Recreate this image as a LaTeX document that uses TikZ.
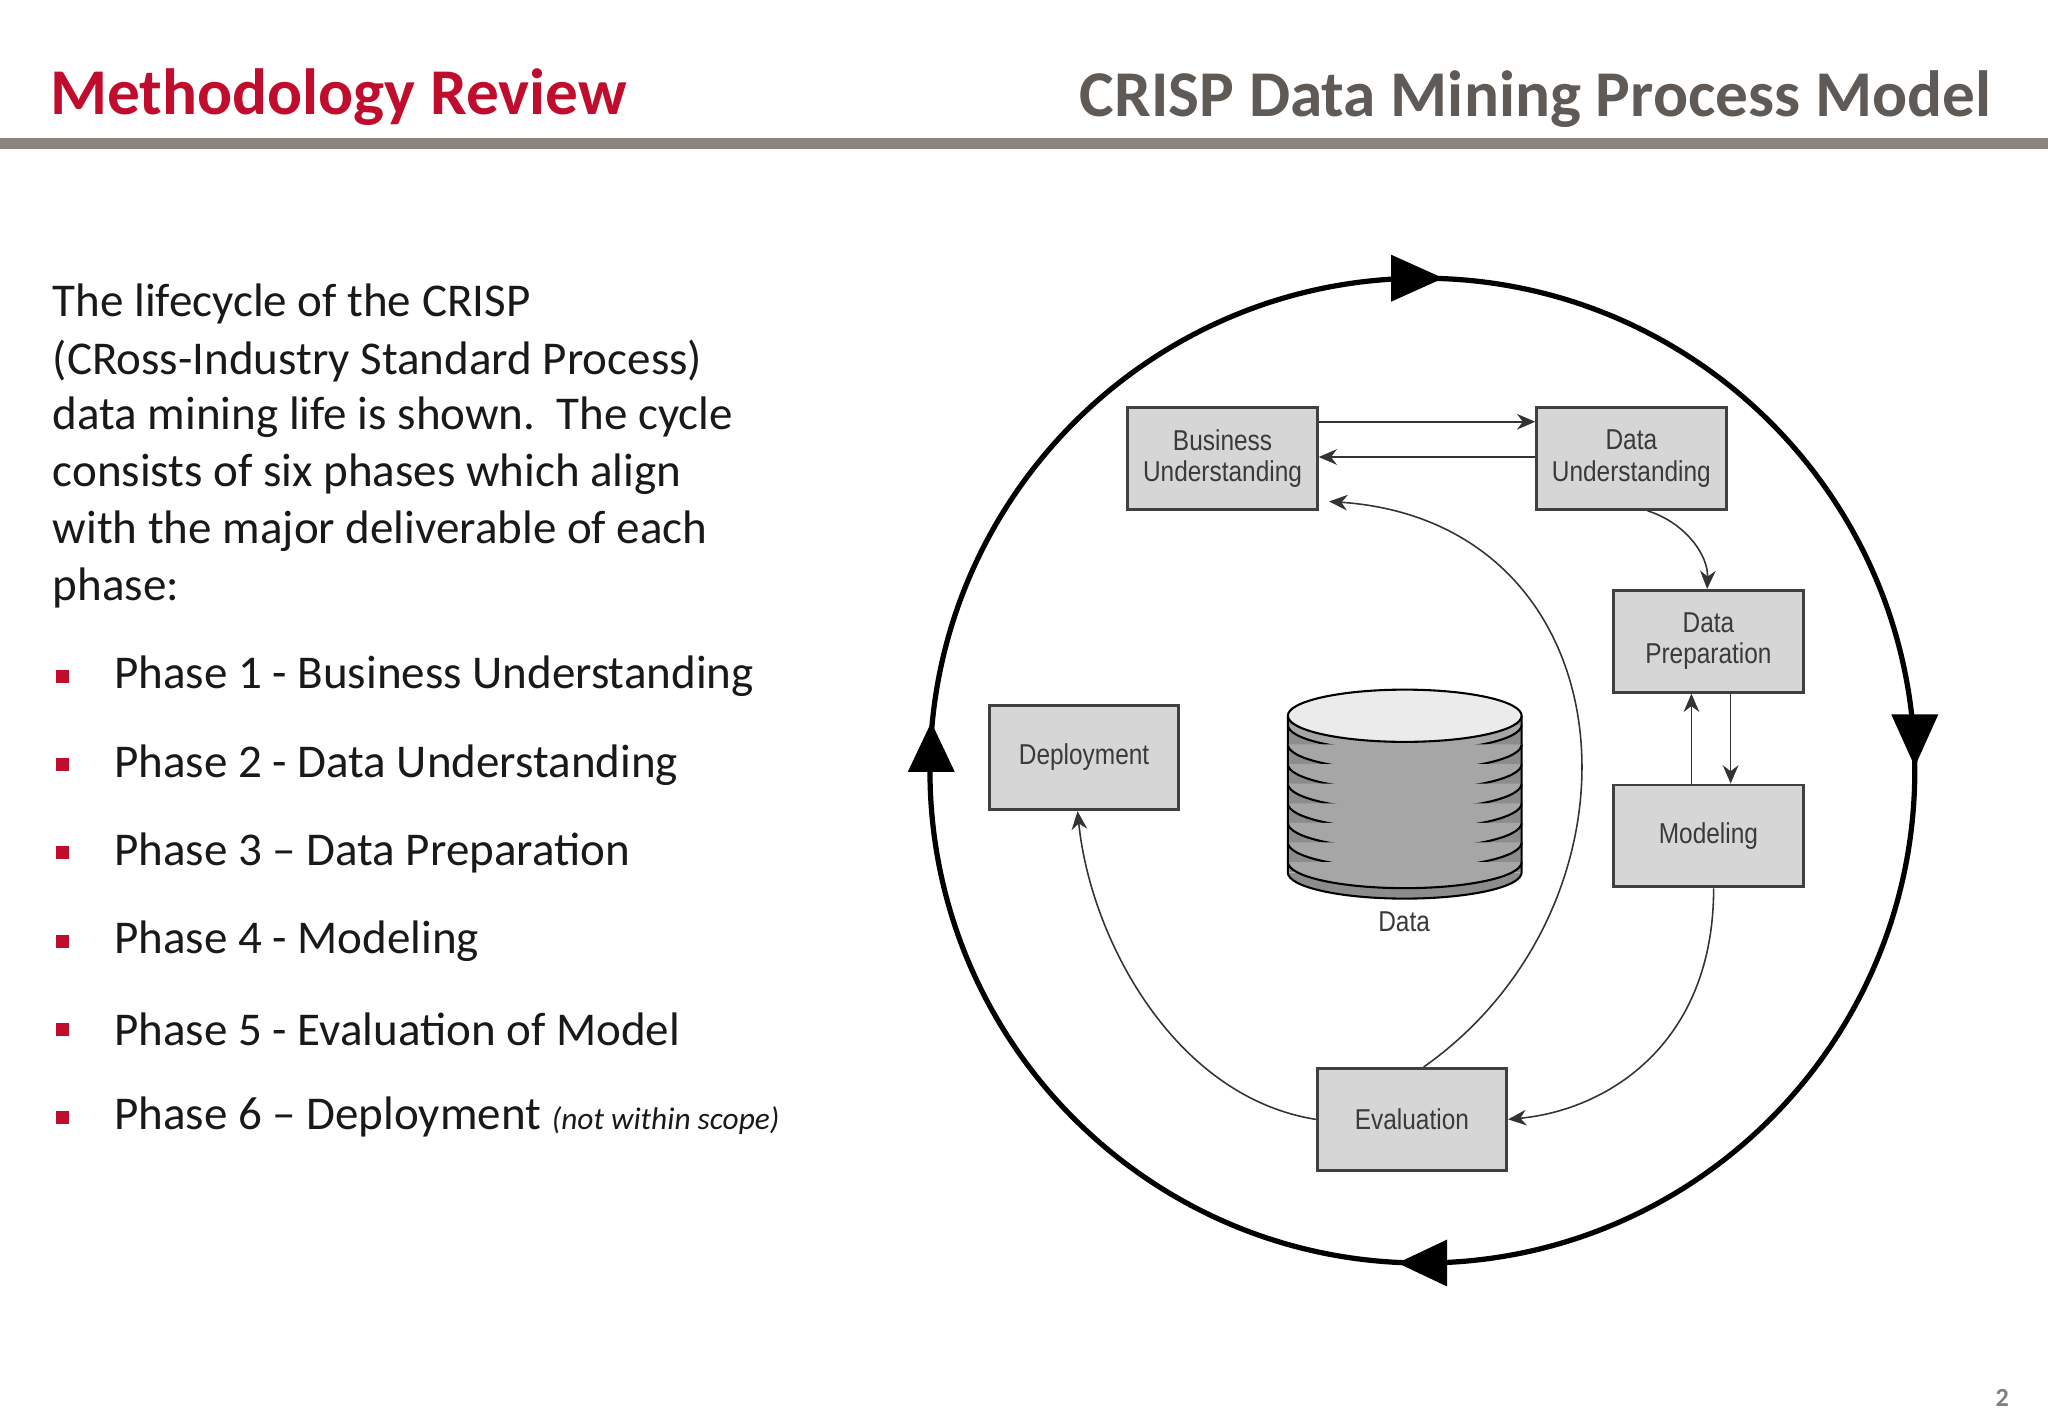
\documentclass[tikz,border=0pt]{standalone}
\usepackage{fontspec}
\setmainfont{Carlito}
\newfontfamily\boxfont[FakeStretch=0.85]{Liberation Sans}
\usetikzlibrary{arrows.meta}
\definecolor{crimson}{HTML}{C00D2D}
\definecolor{titlegray}{HTML}{5F5A55}
\definecolor{rulegray}{HTML}{8C857D}
\definecolor{boxfill}{HTML}{D6D6D6}
\definecolor{boxtext}{HTML}{3A3A3A}
\tikzset{
 phase/.style={draw=black!75,line width=1.1pt,fill=boxfill,minimum width=72.5pt,minimum height=39pt,align=center,inner sep=0pt,font=\boxfont\fontsize{11}{12}\selectfont,text=boxtext},
 flow/.style={draw=black!80,line width=0.6pt,-{Stealth[length=7pt,width=6pt]}},
 bodytxt/.style={anchor=west,inner sep=0pt,font=\fontsize{18}{20}\selectfont,text=black!90},
 tri/.style={fill=black}
}
\begin{document}
\begin{tikzpicture}[x=0.5pt,y=-0.5pt]
\path[use as bounding box,fill=white] (0,0) rectangle (1568,1085);
% header
\node[anchor=west,inner sep=0pt,font=\bfseries\fontsize{25}{28}\selectfont,text=crimson] (t1) at (38,74) {Methodology Review};
\node[anchor=east,inner sep=0pt,font=\bfseries\fontsize{25}{28}\selectfont,text=titlegray] (t2) at (1525,76) {CRISP Data Mining Process Model};
\fill[rulegray] (0,106) rectangle (1568,114);
% body text
\foreach \t [count=\i] in {The lifecycle of the CRISP,(CRoss-Industry Standard Process),data mining life is shown.\ \ The cycle,consists of six phases which align,with the major deliverable of each,phase:}
  \node[bodytxt] (l\i) at (40,{233+(\i-1)*43.4}) {\t};
\foreach \t [count=\i] in {Phase 1 - Business Understanding,Phase 2 - Data Understanding,Phase 3 -- Data Preparation,Phase 4 - Modeling,Phase 5 - Evaluation of Model,{Phase 6 -- Deployment {\itshape\fontsize{12}{13}\selectfont(not within scope)}}}{
  \fill[crimson] (43,{513+(\i-1)*67.5}) rectangle (53,{523+(\i-1)*67.5});
  \node[bodytxt] (p\i) at (87,{518+(\i-1)*67.5}) {\t};
}
% big circle
\draw[line width=2pt] (1089,590) circle[radius=377];
\fill[tri] (1105,213) -- (1065,195) -- (1065,231) -- cycle;
\fill[tri] (1466,587) -- (1448,547) -- (1484,547) -- cycle;
\fill[tri] (1070,967) -- (1108,949) -- (1108,985) -- cycle;
\fill[tri] (713,553) -- (695,591) -- (731,591) -- cycle;
% boxes
\node[phase] (bu) at (936,351) {Business\\Understanding};
\node[phase] (du) at (1249,351) {Data\\Understanding};
\node[phase] (dp) at (1308,491) {Data\\Preparation};
\node[phase] (mo) at (1308,640) {Modeling};
\node[phase] (ev) at (1081,857) {Evaluation};
\node[phase,minimum height=40pt] (de) at (830,580) {Deployment};
% database
\fill[black!45] (986,548) rectangle (1165,668);
\fill[black!45] (986,668) arc[start angle=180,end angle=0,x radius=89.5,y radius=20];
\draw[line width=0.8pt] (986,548) -- (986,668) arc[start angle=180,end angle=0,x radius=89.5,y radius=20] -- (1165,548);
\foreach \k in {0,...,7}
  \draw[line width=0.8pt,fill=black!35] ({986},{555+\k*15}) arc[start angle=180,end angle=0,x radius=89.5,y radius=20];
\draw[line width=0.8pt,fill=black!8] (1075.5,548) ellipse[x radius=89.5,y radius=20];
\node[font=\boxfont\fontsize{11}{12}\selectfont,text=boxtext] (dl) at (1075,706) {Data};
% connectors
\draw[flow] ([yshift=-6pt]bu.north east) -- ([yshift=-6pt]du.north west);
\draw[flow] ([yshift=-19.5pt]du.north west) -- ([yshift=-19.5pt]bu.north east);
\draw[flow] ([xshift=43pt]du.south west) .. controls (1290,400) and (1308,425) .. ([xshift=-0.5pt]dp.north);
\draw[flow] ([xshift=8.5pt]dp.south) -- ([xshift=8.5pt]mo.north);
\draw[flow] ([xshift=-6.5pt]mo.north) -- ([xshift=-6.5pt]dp.south);
\draw[flow] ([xshift=2pt]mo.south) .. controls (1312,800) and (1230,850) .. (ev.east);
\draw[flow] (ev.west) .. controls (900,840) and (835,720) .. ([xshift=-2.5pt]de.south);
\draw[flow] ([xshift=4.5pt]ev.north) .. controls (1270,690) and (1250,400) .. ([yshift=-36.5pt,xshift=4pt]bu.north east);
% page number
\node[font=\bfseries\fontsize{10}{12}\selectfont,text=black!50] (pg) at (1533,1070) {2};
\end{tikzpicture}
\end{document}
